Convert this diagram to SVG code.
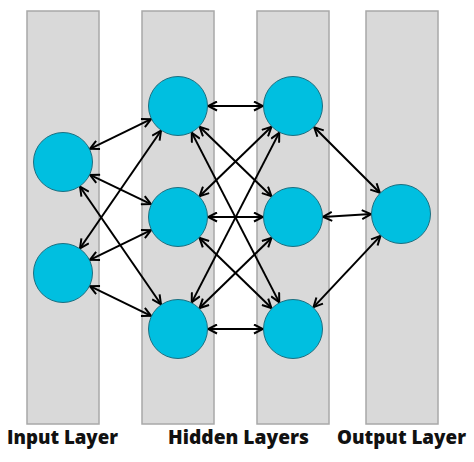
<svg xmlns="http://www.w3.org/2000/svg" width="474" height="462" viewBox="0 0 474 462">
<style>
.col{fill:#d9d9d9;stroke:#a8a8a8;stroke-width:1.5}
.node{fill:#00bfe0;stroke:#1d6f80;stroke-width:1}
.c line{stroke:#000;stroke-width:2;marker-start:url(#ah);marker-end:url(#ah)}
.lbl{font-family:"Open Sans","Liberation Sans",sans-serif;font-weight:800;font-size:19.5px;fill:#111}
</style>
<defs>
<marker id="ah" viewBox="0 0 11 11" refX="10" refY="5.5" markerWidth="11" markerHeight="11" markerUnits="userSpaceOnUse" orient="auto-start-reverse">
<path d="M1,1 L10,5.5 L1,10" fill="none" stroke="#000" stroke-width="2"/>
</marker>
</defs>
<rect width="474" height="462" fill="#fff"/>
<g id="columns">
<rect class="col" x="27" y="11" width="72" height="413"/>
<rect class="col" x="142" y="11" width="72" height="413"/>
<rect class="col" x="257" y="11" width="72" height="413"/>
<rect class="col" x="366" y="11" width="72" height="413"/>
</g>
<g class="c" id="connectors">
<line x1="89.97" y1="148.87" x2="151.03" y2="119.13"/>
<line x1="90.06" y1="174.94" x2="150.94" y2="204.06"/>
<line x1="80.01" y1="186.70" x2="160.99" y2="304.30"/>
<line x1="80.01" y1="248.30" x2="160.99" y2="130.70"/>
<line x1="89.97" y1="259.87" x2="151.03" y2="230.13"/>
<line x1="89.97" y1="286.13" x2="151.03" y2="315.87"/>
<line x1="208" y1="106" x2="263" y2="106"/>
<line x1="199.59" y1="126.84" x2="271.41" y2="196.16"/>
<line x1="191.75" y1="132.66" x2="279.25" y2="302.34"/>
<line x1="199.59" y1="196.16" x2="271.41" y2="126.84"/>
<line x1="208" y1="217" x2="263" y2="217"/>
<line x1="199.49" y1="237.93" x2="271.51" y2="308.07"/>
<line x1="191.75" y1="302.34" x2="279.25" y2="132.66"/>
<line x1="199.49" y1="308.07" x2="271.51" y2="237.93"/>
<line x1="208" y1="329" x2="263" y2="329"/>
<line x1="314.21" y1="127.21" x2="379.79" y2="192.79"/>
<line x1="323" y1="216.92" x2="371" y2="214.08"/>
<line x1="313.53" y1="307.14" x2="380.47" y2="235.86"/>
</g>
<g id="in1"><circle class="node" cx="63" cy="162" r="29.5"/></g>
<g id="in2"><circle class="node" cx="63" cy="273" r="29.5"/></g>
<g id="h1a"><circle class="node" cx="178" cy="106" r="29.5"/></g>
<g id="h1b"><circle class="node" cx="178" cy="217" r="29.5"/></g>
<g id="h1c"><circle class="node" cx="178" cy="329" r="29.5"/></g>
<g id="h2a"><circle class="node" cx="293" cy="106" r="29.5"/></g>
<g id="h2b"><circle class="node" cx="293" cy="217" r="29.5"/></g>
<g id="h2c"><circle class="node" cx="293" cy="329" r="29.5"/></g>
<g id="out"><circle class="node" cx="401" cy="214" r="29.5"/></g>
<g id="labels">
<text class="lbl" x="7" y="444" textLength="111" lengthAdjust="spacingAndGlyphs">Input Layer</text>
<text class="lbl" x="168" y="444" textLength="141" lengthAdjust="spacingAndGlyphs">Hidden Layers</text>
<text class="lbl" x="337" y="444" textLength="129" lengthAdjust="spacingAndGlyphs">Output Layer</text>
</g>
</svg>
